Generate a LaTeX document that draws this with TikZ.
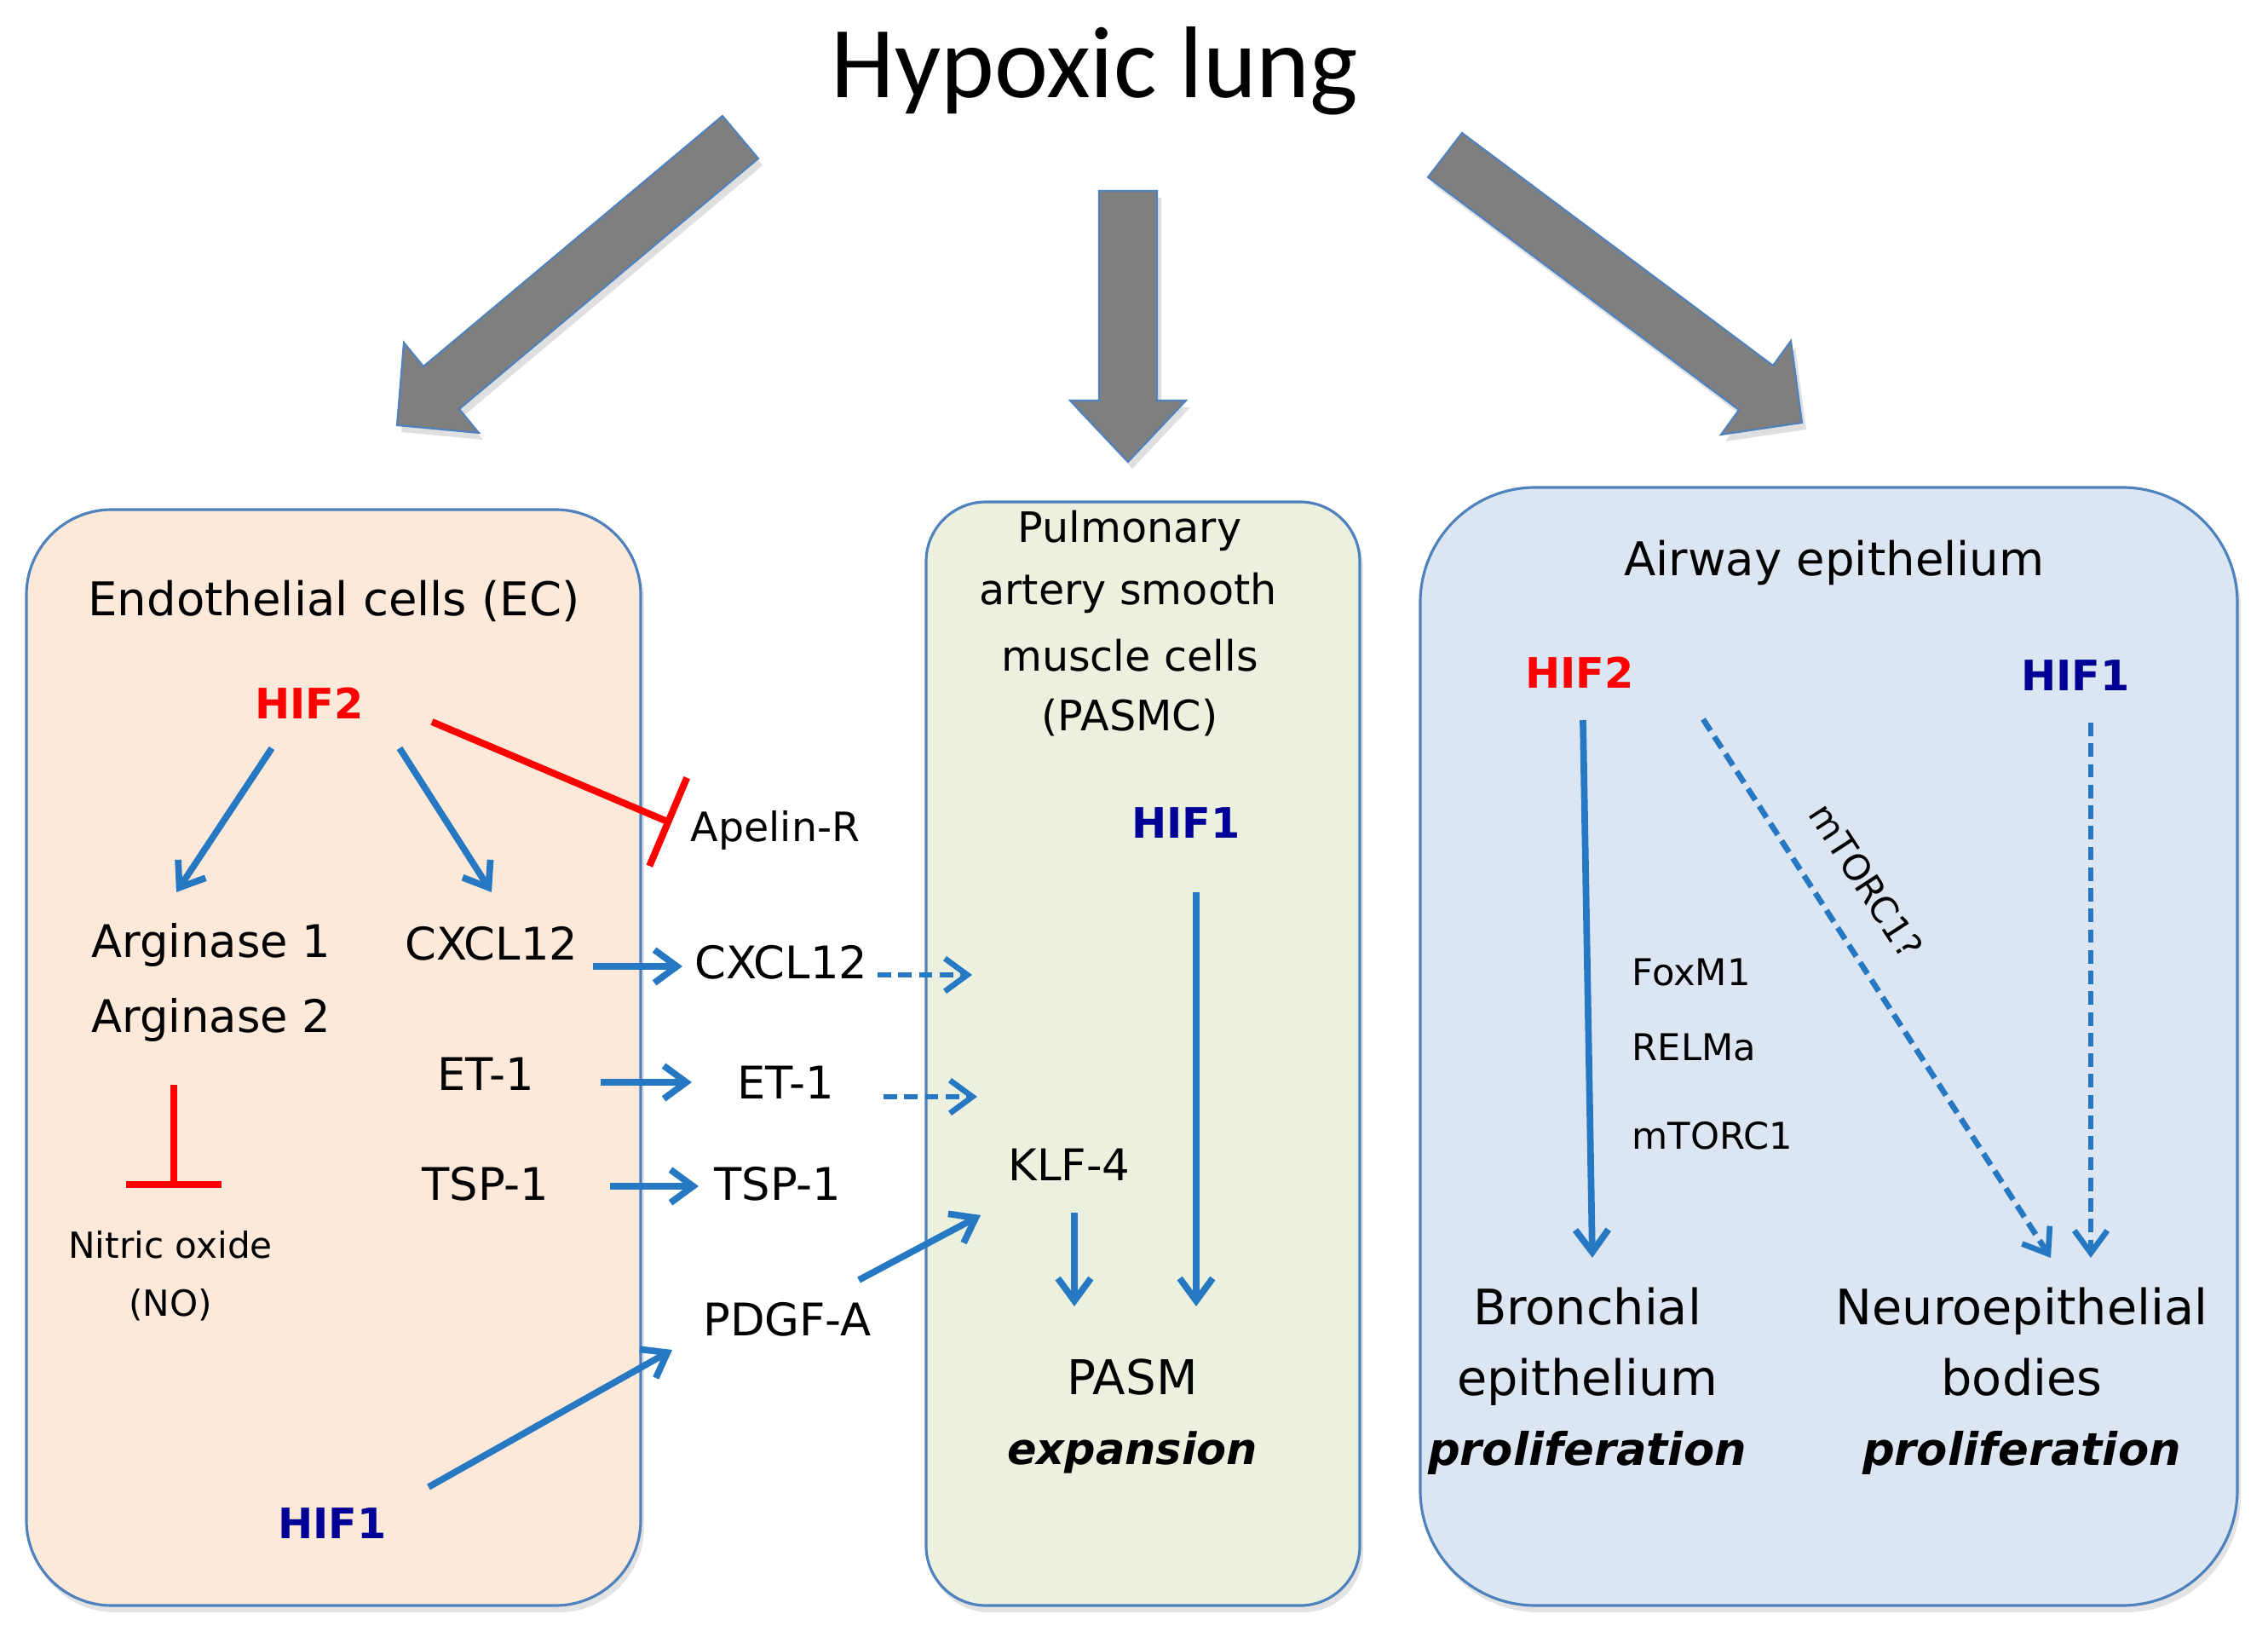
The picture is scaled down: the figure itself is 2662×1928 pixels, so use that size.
\documentclass[tikz,border=0pt]{standalone}
\usepackage{fontspec}
\setmainfont{DejaVu Sans}
\newfontfamily\titlefont{Carlito}
\usetikzlibrary{arrows.meta,calc,shadows}
\definecolor{arrowblue}{RGB}{38,120,195}
\definecolor{boxline}{RGB}{79,129,189}
\definecolor{ecfill}{RGB}{253,233,217}
\definecolor{smfill}{RGB}{235,241,222}
\definecolor{awfill}{RGB}{220,230,242}
\definecolor{hifred}{RGB}{255,0,0}
\definecolor{hifblue}{RGB}{0,0,150}
\definecolor{biggray}{RGB}{127,127,127}
\begin{document}
\begin{tikzpicture}[x=0.01cm,y=-0.01cm,
  txt/.style={inner sep=0pt, align=center, font=\fontsize{15}{18}\selectfont},
  smt/.style={txt, font=\fontsize{14}{16}\selectfont},
  hifr/.style={txt, font=\fontsize{14}{17}\selectfont\bfseries, text=hifred},
  hifb/.style={txt, font=\fontsize{14}{17}\selectfont\bfseries, text=hifblue},
  arr/.style={draw=arrowblue, line width=2.2pt, -{Straight Barb[length=7.5pt,width=11pt]}},
  darr/.style={draw=arrowblue, line width=1.9pt, dash pattern=on 4.5pt off 2.4pt, -{Straight Barb[length=7.5pt,width=11pt]}},
  inh/.style={draw=hifred, line width=2.3pt, -{Bar[width=32pt]}},
  cellbox/.style={draw=boxline, line width=0.9pt, drop shadow={opacity=0.22,shadow xshift=0.04cm,shadow yshift=-0.08cm}},
  bigarrow/.style={fill=biggray, draw=boxline, line width=0.6pt, drop shadow={opacity=0.25,shadow xshift=0.05cm,shadow yshift=-0.08cm}}
]
\useasboundingbox[fill=white] (0,0) rectangle (2662,1928);

% title
\node[inner sep=0pt, anchor=base, font=\titlefont\fontsize{34}{40}\selectfont] (title) at (1285,115) {Hypoxic lung};

% big gray arrows
\draw[bigarrow] (890,186) -- (848,136) -- (497,430) -- (474,402) -- (466,499) -- (562,508) -- (539,480) -- cycle;
\draw[bigarrow] (1290,224) -- (1358,224) -- (1358,470) -- (1392,470) -- (1324,542) -- (1256,470) -- (1290,470) -- cycle;
\draw[bigarrow] (1676,208) -- (1716,156) -- (2081,429) -- (2102,400) -- (2115,496) -- (2020,510) -- (2041,481) -- cycle;

% cell boxes
\draw[cellbox, fill=ecfill, rounded corners=1cm] (31,598) rectangle (752,1884);
\draw[cellbox, fill=smfill, rounded corners=0.7cm] (1087,589) rectangle (1596,1884);
\draw[cellbox, fill=awfill, rounded corners=1.35cm] (1667,572) rectangle (2626,1884);

% endothelial cells
\node[txt, font=\fontsize{15.5}{18}\selectfont] (ectitle) at (392,705) {Endothelial cells (EC)};
\node[hifr] (hif2L) at (363,825) {HIF2};
\node[txt, font=\fontsize{15}{25}\selectfont] (arg) at (248,1153) {Arginase 1\\Arginase 2};
\node[txt] (cxclL) at (577,1107) {CXCL12};
\node[txt] (etL) at (570,1260) {ET-1};
\node[txt] (tspL) at (570,1389) {TSP-1};
\node[txt, font=\fontsize{12}{19.3}\selectfont] (no) at (200,1497) {Nitric oxide\\(NO)};
\node[hifb] (hif1L) at (390,1788) {HIF1};

% between boxes
\node[txt, font=\fontsize{13.5}{16}\selectfont] (apelin) at (910,974) {Apelin-R};
\node[txt] (cxclR) at (917,1129) {CXCL12};
\node[txt] (etR) at (922,1270) {ET-1};
\node[txt] (tspR) at (913,1389) {TSP-1};
\node[txt] (pdgf) at (924,1548) {PDGF-A};

% PASMC
\node[smt] (smt1) at (1326,623) {Pulmonary};
\node[smt] (smt2) at (1324,696) {artery smooth};
\node[smt] (smt3) at (1326,769) {muscle cells};
\node[smt] (smt4) at (1326,842) {(PASMC)};
\node[hifb] (hif1M) at (1392,966) {HIF1};
\node[txt, font=\fontsize{14.6}{18}\selectfont] (klf) at (1255,1367) {KLF-4};
\node[txt, font=\fontsize{16}{23.2}\selectfont] (pasm) at (1329,1662) {PASM\\{\fontsize{14.5}{23.2}\selectfont\bfseries\itshape expansion}};
\coordinate (cxin) at (1141,1144);
\coordinate (etin) at (1147,1287);

% airway epithelium
\node[txt, font=\fontsize{15.5}{18}\selectfont] (awtitle) at (2153,660) {Airway epithelium};
\node[hifr] (hif2R) at (1854,789) {HIF2};
\node[hifb] (hif1R) at (2436,793) {HIF1};
\node[txt, anchor=west, font=\fontsize{12.3}{15}\selectfont] (foxm1) at (1915,1141) {FoxM1};
\node[txt, anchor=west, font=\fontsize{12.3}{15}\selectfont] (relma) at (1915,1229) {RELMa};
\node[txt, anchor=west, font=\fontsize{12.3}{15}\selectfont] (mtorc) at (1915,1333) {mTORC1};
\node[txt, rotate=-57, font=\fontsize{12}{15}\selectfont] (mtorcq) at (2190,1034) {mTORC1?};
\node[txt, font=\fontsize{16.3}{23.5}\selectfont] (bronch) at (1863,1621) {Bronchial\\epithelium\\{\fontsize{15}{23.5}\selectfont\bfseries\itshape proliferation}};
\node[txt, font=\fontsize{16.3}{23.5}\selectfont] (neuro) at (2373,1621) {Neuroepithelial\\bodies\\{\fontsize{15}{23.5}\selectfont\bfseries\itshape proliferation}};

% connectors: endothelial
\draw[arr] ($(hif2L)+(-44,53)$) -- ($(arg)+(-41,-106)$);
\draw[arr] ($(hif2L)+(106,53)$) -- ($(cxclL)+(0,-60)$);
\draw[inh] ($(hif2L)+(144,22)$) -- ($(apelin)+(-122,-8)$);
\draw[inh] ($(arg)+(-44,120)$) -- ($(no)+(4,-103)$);
\draw[arr] ($(cxclL)+(119,27)$) -- ($(cxclR)+(-116,5)$);
\draw[arr] ($(etL)+(135,10)$) -- ($(etR)+(-110,0)$);
\draw[arr] ($(tspL)+(146,3)$) -- ($(tspR)+(-93,3)$);
\draw[arr] ($(hif1L)+(113,-43)$) -- ($(pdgf)+(-135,36)$);

% connectors: to PASMC
\draw[darr] ($(cxclR)+(113,15)$) -- (cxin);
\draw[darr] ($(etR)+(115,17)$) -- (etin);
\draw[arr] ($(pdgf)+(84,-46)$) -- ($(klf)+(-104,59)$);
\draw[arr] ($(hif1M)+(12,81)$) -- ($(pasm)+(75,-129)$);
\draw[arr] ($(klf)+(6,56)$) -- ($(pasm)+(-68,-129)$);

% connectors: airway
\draw[arr] ($(hif2R)+(4,56)$) -- ($(bronch)+(6,-145)$);
\draw[darr] ($(hif2R)+(145,55)$) -- ($(neuro)+(34,-145)$);
\draw[darr] ($(hif1R)+(18,55)$) -- ($(neuro)+(81,-145)$);
\end{tikzpicture}
\end{document}
